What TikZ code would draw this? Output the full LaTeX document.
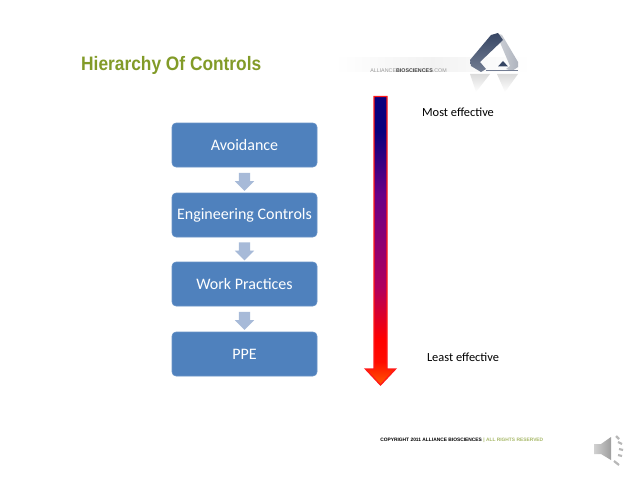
\documentclass[tikz,border=0pt]{standalone}
\usepackage{fontspec}
\setmainfont{Carlito}
\newfontfamily\arialfont{Liberation Sans}
\usetikzlibrary{shapes.arrows}
\definecolor{boxblue}{RGB}{79,129,189}
\definecolor{arrowblue}{RGB}{167,186,216}
\definecolor{titlegreen}{RGB}{130,155,40}
\definecolor{logodark}{RGB}{55,70,100}
\definecolor{logolight}{RGB}{175,180,190}
\definecolor{topnavy}{RGB}{10,0,125}
\definecolor{midpurple}{RGB}{105,0,135}
\definecolor{midmagenta}{RGB}{175,0,95}
\pgfdeclareverticalshading{effectshade}{100bp}{
  color(0bp)=(orange!70!red); color(25bp)=(orange!70!red); color(29bp)=(red!90!orange); color(33bp)=(red);
  color(42bp)=(midmagenta); color(58bp)=(midpurple); color(69bp)=(topnavy); color(75bp)=(topnavy); color(100bp)=(topnavy)}
\tikzset{
    stepbox/.style={draw=boxblue!85!white,fill=boxblue,rounded corners=3,minimum width=108.75pt,minimum height=33pt,inner sep=0pt,text=white,font=\fontsize{12}{14}\selectfont},
    downarrow/.style={single arrow,fill=arrowblue,rotate=-90,minimum height=13.5pt,minimum width=14.5pt,single arrow head extend=2.6pt,inner xsep=0pt,inner ysep=3.5pt,shape border uses incircle=false},
    sidetext/.style={font=\fontsize{9.3}{11}\selectfont,text=black,inner sep=0pt},
    tinytext/.style={font=\arialfont\bfseries\fontsize{3.65}{5}\selectfont,inner sep=0pt}
}
\begin{document}
\begin{tikzpicture}[x=0.75pt,y=-0.75pt]
    \useasboundingbox (0,0) rectangle (638,478);
    \fill[white] (0,0) rectangle (638,478);

    \node[anchor=west,inner sep=0pt,text=titlegreen,xscale=0.89,font=\arialfont\bfseries\fontsize{14.6}{17}\selectfont] (title) at (81,65.5) {Hierarchy Of Controls};

    % logo
    \shade[left color=white,right color=white,middle color=black!5] (335,58) rectangle (530,72);
    \node[anchor=west,inner sep=0pt,font=\arialfont\fontsize{4}{5}\selectfont,text=black!40] (logotext) at (370,70.5) {ALLIANCE\textcolor{black!75}{\bfseries BIOSCIENCES}.COM};
    \shade[left color=logolight!60,right color=logolight] (496,33) -- (502,35) -- (518,62) -- (518,67) -- (512,71) -- (506,69) -- (510,66) -- cycle;
    \shade[top color=logodark,bottom color=logodark!70] (491,35) -- (498,33) -- (503,40) -- (480,62) -- (486,69) -- (481,72) -- (471,66) -- (470,60) -- cycle;
    \fill[logodark] (498,66.5) -- (503,61) -- (508,66.5) -- cycle;
    \fill[logodark!70] (486,70) -- (518,70) -- (518,71) -- (486,71) -- cycle;
    \shade[top color=black!14,bottom color=white] (470,74) -- (490,74) -- (476,92) -- cycle;
    \shade[top color=black!14,bottom color=white] (497,74) -- (518,74) -- (505,92) -- cycle;

    % boxes and arrows between them
    \foreach \y/\t/\k in {145/Avoidance/0,215/Engineering Controls/1,284/Work Practices/2,354/PPE/3}
      \node[stepbox] (box\k) at (244.5,\y) {\t};
    \foreach \y/\k in {179/0,248.5/1,318/2}
      \node[downarrow] (down\k) at (244.5,\y) {};

    % big arrow
    \path[draw=red!90!white,line width=1pt,shading=effectshade]
      (374,96.5) -- (387,96.5) -- (387,369) -- (395.5,369) -- (380.5,385) -- (365.5,369) -- (374,369) -- cycle;

    \node[sidetext] (most) at (458,112) {Most effective};
    \node[sidetext] (least) at (463,357) {Least effective};

    % footer
    \node[tinytext,anchor=west] (copyright) at (380,440) {COPYRIGHT 2011 ALLIANCE BIOSCIENCES \textcolor{titlegreen!70}{| ALL RIGHTS RESERVED}};

    % speaker
    \shade[left color=black!18,right color=black!38] (594,444) -- (601,444) -- (611,437) -- (611,460) -- (601,454) -- (594,454) -- cycle;
    \foreach \xa/\ya/\xb/\yb in {616/436/619/439,618/442/622/444,619/449/623/450,618/455/622/456,614/461/619/465}
      \draw[black!28,line width=1.6pt] (\xa,\ya) -- (\xb,\yb);
\end{tikzpicture}
\end{document}
